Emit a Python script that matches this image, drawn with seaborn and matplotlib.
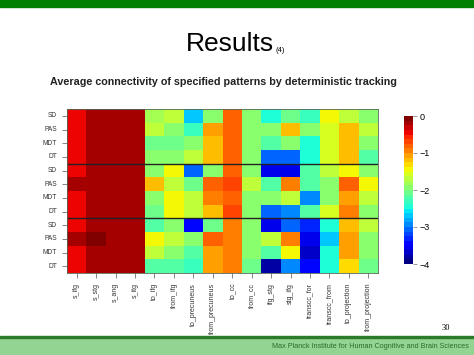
import matplotlib
matplotlib.use("Agg")
import matplotlib.pyplot as plt
import seaborn as sns
import numpy as np
import pandas as pd
from matplotlib.colors import ListedColormap
from matplotlib.patches import Rectangle

plt.rcParams['font.family'] = ['Liberation Sans', 'DejaVu Sans']

# rows: three blocks of the same four patterns
patterns = ["SD", "PAS", "MDT", "DT"]
row_labels = patterns * 3
col_labels = ["s_ifg", "s_stg", "s_ang", "s_itg", "to_ifg", "from_ifg",
              "to_precuneus", "from_precuneus", "to_cc", "from_cc",
              "ifg_stg", "stg_ifg", "transcc_for", "transcc_from",
              "to_projection", "from_projection"]

# log connectivity, one list per column (12 rows each)
s_ifg = [-0.45, -0.45, -0.45, -0.45, -0.45, -0.2, -0.45, -0.45, -0.45, -0.2, -0.45, -0.45]
s_stg = [-0.2, -0.2, -0.2, -0.2, -0.2, -0.2, -0.2, -0.2, -0.2, -0.1, -0.2, -0.2]
s_ang = [-0.2] * 12
s_itg = [-0.2] * 12
to_ifg = [-1.8, -1.7, -2.05, -1.95, -1.9, -1.15, -1.95, -2.1, -2.15, -1.5, -1.7, -2.2]
from_ifg = [-1.7, -1.9, -2.05, -1.9, -1.5, -1.75, -1.5, -1.5, -1.95, -1.7, -1.9, -2.15]
to_precuneus = [-2.7, -2.35, -1.9, -1.7, -3.1, -2.1, -1.75, -1.7, -3.4, -1.9, -2.15, -2.35]
from_precuneus = [-1.9, -1.05, -1.25, -1.25, -1.95, -0.85, -1.0, -1.2, -2.1, -0.85, -1.05, -1.05]
to_cc = [-0.85, -0.85, -0.85, -0.85, -0.8, -0.65, -0.8, -0.65, -1.0, -0.9, -0.9, -0.9]
from_cc = [-1.9, -1.9, -1.9, -1.9, -1.9, -1.7, -1.9, -1.9, -1.9, -1.9, -1.9, -2.1]
ifg_stg = [-2.5, -1.9, -2.2, -3.1, -3.6, -2.15, -1.9, -3.05, -3.6, -1.65, -2.15, -3.8]
stg_ifg = [-2.05, -1.25, -1.95, -3.1, -3.6, -1.0, -1.7, -2.9, -3.1, -1.0, -1.5, -3.0]
transcc_for = [-2.3, -1.95, -2.5, -2.5, -2.25, -2.25, -3.0, -2.25, -3.35, -3.55, -3.7, -3.45]
transcc_from = [-1.5, -1.55, -1.55, -1.55, -1.7, -1.9, -1.9, -1.55, -2.5, -2.65, -2.5, -2.5]
to_projection = [-1.7, -1.25, -1.25, -1.25, -1.45, -0.85, -1.05, -0.9, -1.25, -1.05, -1.05, -1.3]
from_projection = [-1.9, -1.7, -1.9, -2.15, -1.9, -1.5, -1.7, -1.9, -1.75, -1.95, -1.9, -2.05]

cols = [s_ifg, s_stg, s_ang, s_itg, to_ifg, from_ifg, to_precuneus, from_precuneus,
        to_cc, from_cc, ifg_stg, stg_ifg, transcc_for, transcc_from,
        to_projection, from_projection]
df = pd.DataFrame(np.array(cols).T, index=row_labels, columns=col_labels)

fig = plt.figure(figsize=(4.74, 3.55), dpi=100)
fig.patch.set_facecolor('white')

# slide decoration
fig.add_artist(Rectangle((0, 1 - 7 / 355), 1, 7 / 355, transform=fig.transFigure,
                         color='#008000', zorder=0))
fig.add_artist(Rectangle((0, 0), 1, 18 / 355, transform=fig.transFigure,
                         color='#93d493', zorder=0))
fig.add_artist(Rectangle((0, 17 / 355), 1, 2.5 / 355, transform=fig.transFigure,
                         color='#2a7a2a', zorder=0))

fig.text(0.485, 1 - 44 / 355, "Results", ha='center', va='center', fontsize=19)
fig.text(0.582, 1 - 50 / 355, "(4)", ha='left', va='center', fontsize=5.5)
fig.text(50 / 474, 1 - 82 / 355,
         "Average connectivity of specified patterns by deterministic tracking",
         ha='left', va='center', fontsize=7.75, fontweight='bold', color='#222222')
fig.text(446 / 474, 1 - 328 / 355, "30", ha='center', va='center', fontsize=6,
         family=['Liberation Serif', 'DejaVu Serif'])
fig.text(469 / 474, 1 - 346 / 355,
         "Max Planck Institute for Human Cognitive and Brain Sciences",
         ha='right', va='center', fontsize=5.2, color='#2a6e2a')

ax = fig.add_axes([67 / 474, 1 - 273 / 355, 311 / 474, 164 / 355])
cax = fig.add_axes([404 / 474, 1 - 264 / 355, 9 / 474, 148 / 355])

cmap = ListedColormap(plt.get_cmap('jet')(np.linspace(0, 1, 32)))
sns.heatmap(df, ax=ax, cbar_ax=cax, cmap=cmap, vmin=-4, vmax=0,
            xticklabels=True, yticklabels=True,
            cbar_kws={'ticks': [0, -1, -2, -3, -4]})

ax.axhline(4, color='#222222', lw=1)
ax.axhline(8, color='#222222', lw=1)
for s in ax.spines.values():
    s.set_visible(True)
    s.set_color('#556655')
    s.set_linewidth(0.6)

ax.set_yticklabels(row_labels, rotation=0, fontsize=4.8, color='#333333')
ax.set_xticklabels(col_labels, rotation=90, fontsize=5, color='#333333')
ax.tick_params(axis='both', length=3.5, width=0.5, color='#555555', pad=3.5)

cbar = ax.collections[0].colorbar
cbar.outline.set_visible(False)
cax.tick_params(labelsize=6.5, length=3, width=0.5, color='#777777', pad=2)
cax.set_yticklabels(['0', '\u22121', '\u22122', '\u22123', '\u22124'])

fig.savefig('out.png', dpi=100)
